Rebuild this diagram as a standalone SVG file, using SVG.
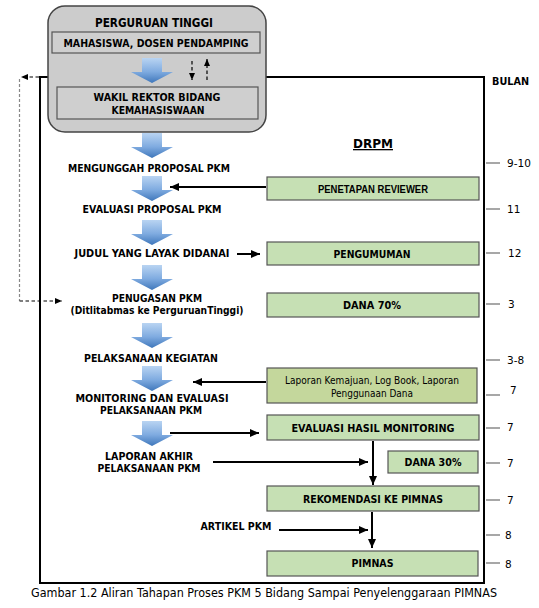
<svg xmlns="http://www.w3.org/2000/svg" width="539" height="608" viewBox="0 0 539 608">
<style>
.b{font-family:"DejaVu Sans","Verdana",sans-serif;font-weight:bold;font-size:10.5px;fill:#000;text-anchor:middle}
.r{font-family:"DejaVu Sans","Verdana",sans-serif;font-size:10px;fill:#000;text-anchor:middle}
.n{font-family:"DejaVu Sans","Verdana",sans-serif;font-size:10.5px;fill:#000}
.g{fill:#c6e0b4;stroke:#555;stroke-width:1.2}
.gy{fill:#cfcfcf;stroke:#555;stroke-width:1.2}
.c{stroke:#000;stroke-width:2;fill:none}
.t{stroke:#8a8a8a;stroke-width:1.5}
.d{stroke:#000;stroke-width:1.2;fill:none;stroke-dasharray:3.5 2.5}
</style>
<defs>
<linearGradient id="bg" x1="0" y1="0" x2="0" y2="1">
<stop offset="0" stop-color="#b9d4f2"/>
<stop offset="0.55" stop-color="#7fabe0"/>
<stop offset="1" stop-color="#3f77bb"/>
</linearGradient>
<path id="ba" d="M-10,0 H10 V14 H21 L0,25 L-21,14 H-10 Z" fill="url(#bg)"/>
<marker id="ah" markerUnits="userSpaceOnUse" markerWidth="9" markerHeight="8" viewBox="0 0 9 8" refX="9" refY="4" orient="auto">
<path d="M0,0 L9,4 L0,8 Z" fill="#000"/>
</marker>
<marker id="as" markerUnits="userSpaceOnUse" markerWidth="7" markerHeight="6" viewBox="0 0 7 6" refX="7" refY="3" orient="auto">
<path d="M0,0 L7,3 L0,6 Z" fill="#000"/>
</marker>
</defs>
<rect x="0" y="0" width="539" height="608" fill="#fff"/>

<g id="drpm-frame">
<rect x="40" y="77" width="444" height="506" fill="#fff" stroke="#000" stroke-width="2"/>
<text x="373" y="148" textLength="40" lengthAdjust="spacingAndGlyphs" style="font-family:'DejaVu Sans',sans-serif;font-weight:bold;font-size:13px;text-anchor:middle;text-decoration:underline">DRPM</text>
</g>

<g id="perguruan-tinggi">
<rect x="48" y="6" width="218" height="126" rx="17" fill="#cccccc" stroke="#444" stroke-width="1.5"/>
<text class="b" x="154" y="27" style="font-size:11.5px" textLength="118" lengthAdjust="spacingAndGlyphs">PERGURUAN TINGGI</text>
</g>
<g id="mahasiswa">
<rect class="gy" x="52" y="32" width="208" height="21"/>
<text class="b" x="156" y="47" textLength="185" lengthAdjust="spacingAndGlyphs">MAHASISWA, DOSEN PENDAMPING</text>
</g>
<g id="wakil-rektor">
<rect class="gy" x="57" y="87" width="201" height="32"/>
<text class="b" x="157" y="101" textLength="127" lengthAdjust="spacingAndGlyphs">WAKIL REKTOR BIDANG</text>
<text class="b" x="158" y="114" textLength="93" lengthAdjust="spacingAndGlyphs">KEMAHASISWAAN</text>
</g>

<g id="connectors">
<use href="#ba" x="152" y="58"/>
<use href="#ba" x="152" y="133"/>
<use href="#ba" x="152" y="176"/>
<use href="#ba" x="152" y="220"/>
<use href="#ba" x="152" y="265"/>
<use href="#ba" x="152" y="323"/>
<use href="#ba" x="152" y="366"/>
<use href="#ba" x="152" y="421"/>
<path class="d" d="M192,61 V80" marker-end="url(#as)"/>
<path class="d" d="M207,80 V59" marker-end="url(#as)"/>
<path class="d" d="M39,77 H21" marker-end="url(#as)"/>
<path d="M19.5,79 V301" stroke="#888" stroke-width="1.2" stroke-dasharray="3 2" fill="none"/>
<path class="d" d="M19.5,301 H62" marker-end="url(#as)"/>
<path class="c" d="M266,187 H170" marker-end="url(#ah)"/>
<path class="c" d="M237,254 H260" marker-end="url(#ah)"/>
<path class="c" d="M266,382 H193" marker-end="url(#ah)"/>
<path class="c" d="M170,433 H259" marker-end="url(#ah)"/>
<path class="c" d="M213,462 H368" marker-end="url(#ah)"/>
<path class="c" d="M373,441 V485" marker-end="url(#ah)"/>
<path class="c" d="M372,512 V548" marker-end="url(#ah)"/>
<path class="c" d="M279,530 H368" marker-end="url(#ah)"/>
</g>

<g id="mengunggah"><text class="b" x="149" y="172" textLength="162" lengthAdjust="spacingAndGlyphs">MENGUNGGAH PROPOSAL PKM</text></g>
<g id="evaluasi-proposal"><text class="b" x="152" y="213" textLength="139" lengthAdjust="spacingAndGlyphs">EVALUASI PROPOSAL PKM</text></g>
<g id="judul"><text class="b" x="152" y="257" textLength="155" lengthAdjust="spacingAndGlyphs">JUDUL YANG LAYAK DIDANAI</text></g>
<g id="penugasan">
<text class="b" x="157" y="302" textLength="90" lengthAdjust="spacingAndGlyphs">PENUGASAN PKM</text>
<text class="b" x="157" y="314" textLength="173" lengthAdjust="spacingAndGlyphs">(Ditlitabmas ke PerguruanTinggi)</text>
</g>
<g id="pelaksanaan"><text class="b" x="151" y="362" textLength="134" lengthAdjust="spacingAndGlyphs">PELAKSANAAN KEGIATAN</text></g>
<g id="monitoring">
<text class="b" x="152" y="402" textLength="153" lengthAdjust="spacingAndGlyphs">MONITORING DAN EVALUASI</text>
<text class="b" x="151" y="414" textLength="102" lengthAdjust="spacingAndGlyphs">PELAKSANAAN PKM</text>
</g>
<g id="laporan-akhir">
<text class="b" x="149" y="460" textLength="88" lengthAdjust="spacingAndGlyphs">LAPORAN AKHIR</text>
<text class="b" x="149" y="472" textLength="103" lengthAdjust="spacingAndGlyphs">PELAKSANAAN PKM</text>
</g>
<g id="artikel"><text class="b" x="236" y="530" textLength="71" lengthAdjust="spacingAndGlyphs">ARTIKEL PKM</text></g>

<g id="penetapan-reviewer">
<rect class="g" x="267" y="177" width="212" height="23"/>
<text x="373" y="192.5" textLength="110" lengthAdjust="spacingAndGlyphs" style="font-family:'Liberation Sans',Arial,sans-serif;font-weight:bold;font-size:11px;text-anchor:middle">PENETAPAN REVIEWER</text>
</g>
<g id="pengumuman">
<rect class="g" x="267" y="242" width="212" height="23"/>
<text class="b" x="372" y="257.5" textLength="77" lengthAdjust="spacingAndGlyphs">PENGUMUMAN</text>
</g>
<g id="dana70">
<rect class="g" x="267" y="293" width="212" height="24"/>
<text class="b" x="372" y="308.5" textLength="58" lengthAdjust="spacingAndGlyphs">DANA 70%</text>
</g>
<g id="laporan-kemajuan">
<rect x="267" y="368" width="210" height="35" fill="#c4d79c" stroke="#555" stroke-width="1.2"/>
<text class="r" x="372" y="384" textLength="174" lengthAdjust="spacingAndGlyphs">Laporan Kemajuan, Log Book, Laporan</text>
<text class="r" x="372" y="396.5" textLength="82" lengthAdjust="spacingAndGlyphs">Penggunaan Dana</text>
</g>
<g id="evaluasi-hasil">
<rect class="g" x="267" y="415" width="212" height="25"/>
<text class="b" x="373" y="431.5" textLength="163" lengthAdjust="spacingAndGlyphs">EVALUASI HASIL MONITORING</text>
</g>
<g id="dana30">
<rect class="g" x="388" y="451" width="90" height="22"/>
<text class="b" x="433" y="466" textLength="57" lengthAdjust="spacingAndGlyphs">DANA 30%</text>
</g>
<g id="rekomendasi">
<rect class="g" x="267" y="486" width="212" height="25"/>
<text class="b" x="373" y="502.5" textLength="140" lengthAdjust="spacingAndGlyphs">REKOMENDASI KE PIMNAS</text>
</g>
<g id="pimnas">
<rect class="g" x="267" y="551" width="211" height="25"/>
<text class="b" x="372.5" y="567" textLength="42" lengthAdjust="spacingAndGlyphs">PIMNAS</text>
</g>

<g id="bulan">
<text x="492" y="85" textLength="37" lengthAdjust="spacingAndGlyphs" style="font-family:'DejaVu Sans',sans-serif;font-weight:bold;font-size:10.5px">BULAN</text>
<line class="t" x1="486" y1="163" x2="500" y2="163"/><text class="n" x="507" y="167">9-10</text>
<line class="t" x1="486" y1="209" x2="500" y2="209"/><text class="n" x="507" y="213">11</text>
<line class="t" x1="486" y1="253" x2="500" y2="253"/><text class="n" x="508" y="257">12</text>
<line class="t" x1="486" y1="304" x2="500" y2="304"/><text class="n" x="508" y="308">3</text>
<line class="t" x1="486" y1="360" x2="500" y2="360"/><text class="n" x="507" y="364">3-8</text>
<line class="t" x1="486" y1="395" x2="500" y2="395"/><text class="n" x="510" y="394">7</text>
<line class="t" x1="486" y1="428" x2="500" y2="428"/><text class="n" x="507" y="431">7</text>
<line class="t" x1="486" y1="463" x2="500" y2="463"/><text class="n" x="507" y="467">7</text>
<line class="t" x1="486" y1="500" x2="500" y2="500"/><text class="n" x="507" y="504">7</text>
<line class="t" x1="486" y1="535" x2="500" y2="535"/><text class="n" x="505" y="539">8</text>
<line class="t" x1="486" y1="563" x2="500" y2="563"/><text class="n" x="505" y="568">8</text>
</g>

<g id="caption">
<text x="31" y="597" textLength="466" lengthAdjust="spacingAndGlyphs" style="font-family:'DejaVu Sans',Tahoma,sans-serif;font-size:12px">Gambar 1.2 Aliran Tahapan Proses PKM 5 Bidang Sampai Penyelenggaraan PIMNAS</text>
</g>
</svg>
